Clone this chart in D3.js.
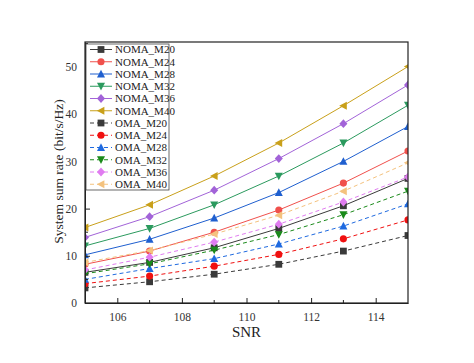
<!DOCTYPE html>
<html>
<head>
<meta charset="utf-8">
<script src="https://cdn.jsdelivr.net/npm/d3@7"></script>
<style>
  body { margin: 0; background: #fff; }
  text { font-family: "Liberation Serif", "Times New Roman", serif; }
</style>
</head>
<body>
<div id="wrapper"></div>
<script>
// data
const snr = [105, 107, 109, 111, 113, 115]

const nomaM20 = [6.5, 8.6, 11.7, 15.8, 20.6, 26.4]
const nomaM24 = [8.2, 11.0, 15.0, 19.7, 25.4, 32.2]
const nomaM28 = [10.2, 13.5, 18.0, 23.4, 30.0, 37.4]
const nomaM32 = [12.1, 15.8, 20.8, 26.9, 33.9, 41.9]
const nomaM36 = [13.9, 18.3, 23.9, 30.6, 38.0, 46.2]
const nomaM40 = [16.0, 20.8, 26.9, 33.9, 41.8, 50.1]
const omaM20 = [3.2, 4.5, 6.1, 8.2, 11.0, 14.3]
const omaM24 = [4.1, 5.7, 7.8, 10.3, 13.6, 17.6]
const omaM28 = [5.0, 7.3, 9.4, 12.5, 16.3, 21.0]
const omaM32 = [6.2, 8.3, 11.2, 14.5, 18.7, 23.7]
const omaM36 = [7.0, 9.7, 12.9, 16.7, 21.4, 26.7]
const omaM40 = [8.6, 11.1, 14.6, 18.6, 23.7, 29.7]

const seriesNames = ['NOMA_M20', 'NOMA_M24', 'NOMA_M28', 'NOMA_M32', 'NOMA_M36', 'NOMA_M40',
  'OMA_M20', 'OMA_M24', 'OMA_M28', 'OMA_M32', 'OMA_M36', 'OMA_M40']
const seriesValues = [nomaM20, nomaM24, nomaM28, nomaM32, nomaM36, nomaM40,
  omaM20, omaM24, omaM28, omaM32, omaM36, omaM40]

const xTicks = [106, 108, 110, 112, 114]
const yTicks = [0, 10, 20, 30, 40, 50]

// styles
const colors = ['#3a3a3a', '#f0504c', '#1f5fcf', '#2b9a5e', '#a263d8', '#c9a01a',
  '#3a3a3a', '#f01010', '#1f6ae0', '#1a8a1a', '#e07cf0', '#f4c27e']
const shapes = ['square', 'circle', 'up', 'down', 'diamond', 'left',
  'square', 'circle', 'up', 'down', 'diamond', 'left']

const series = seriesNames.map((name, i) => ({
  name: name,
  values: seriesValues[i].map((v, j) => ({ x: snr[j], y: v })),
  color: colors[i],
  shape: shapes[i],
  dashed: name.startsWith('OMA')
}))

// dimensions
let dimensions = {
  width: 474,
  height: 363,
  margin: { top: 42, right: 66, bottom: 60, left: 85 }
}
dimensions.boundedWidth = dimensions.width - dimensions.margin.left - dimensions.margin.right
dimensions.boundedHeight = dimensions.height - dimensions.margin.top - dimensions.margin.bottom

const wrapper = d3.select('#wrapper')
  .append('svg')
    .attr('width', dimensions.width)
    .attr('height', dimensions.height)

const bounds = wrapper.append('g')
  .attr('transform', `translate(${dimensions.margin.left},${dimensions.margin.top})`)

// scales
const xScale = d3.scaleLinear()
  .domain([105, 115])
  .range([0, dimensions.boundedWidth])

const yScale = d3.scaleLinear()
  .domain([0, 55.3])
  .range([dimensions.boundedHeight, 0])

// marker path
const markerPath = (shape) => {
  const s = 3.4
  switch (shape) {
    case 'square': return `M${-s},${-s}H${s}V${s}H${-s}Z`
    case 'circle': return d3.symbol(d3.symbolCircle, 40)()
    case 'up': return `M0,${-s - 0.8}L${s + 0.6},${s}L${-s - 0.6},${s}Z`
    case 'down': return `M0,${s + 0.8}L${s + 0.6},${-s}L${-s - 0.6},${-s}Z`
    case 'diamond': return `M0,${-s - 1}L${s + 0.6},0L0,${s + 1}L${-s - 0.6},0Z`
    case 'left': return `M${-s - 0.8},0L${s},${-s - 0.6}L${s},${s + 0.6}Z`
  }
}

// clip so markers at the edges are cut like the original
bounds.append('clipPath').attr('id', 'clip')
  .append('rect')
    .attr('width', dimensions.boundedWidth)
    .attr('height', dimensions.boundedHeight)

const plot = bounds.append('g').attr('clip-path', 'url(#clip)')

const line = d3.line()
  .x(d => xScale(d.x))
  .y(d => yScale(d.y))

const seriesGroup = plot.selectAll('g.series')
  .data(series)
  .enter().append('g')
    .attr('class', 'series')

seriesGroup.append('path')
  .attr('d', d => line(d.values))
  .attr('fill', 'none')
  .attr('stroke', d => d.color)
  .attr('stroke-width', 1)
  .attr('stroke-dasharray', d => d.dashed ? '4,3' : null)

seriesGroup.selectAll('path.marker')
  .data(d => d.values.map(v => ({ ...v, color: d.color, shape: d.shape })))
  .enter().append('path')
    .attr('class', 'marker')
    .attr('d', d => markerPath(d.shape))
    .attr('transform', d => `translate(${xScale(d.x)},${yScale(d.y)})`)
    .attr('fill', d => d.color)

// axes
const xAxis = d3.axisBottom(xScale)
  .tickValues(xTicks)
  .tickSizeInner(-5)
  .tickSizeOuter(0)
  .tickPadding(10)

const xAxisGroup = bounds.append('g')
  .attr('transform', `translate(0,${dimensions.boundedHeight})`)
  .call(xAxis)

const yAxis = d3.axisLeft(yScale)
  .tickValues(yTicks)
  .tickSizeInner(-5)
  .tickSizeOuter(0)
  .tickPadding(8)

const yAxisGroup = bounds.append('g').call(yAxis)

// minor ticks
const xMinor = [107, 109, 111, 113]
bounds.append('g').selectAll('line')
  .data(xMinor)
  .enter().append('line')
    .attr('x1', d => xScale(d)).attr('x2', d => xScale(d))
    .attr('y1', dimensions.boundedHeight).attr('y2', dimensions.boundedHeight - 3)
    .attr('stroke', '#222')

const yMinor = [5, 15, 25, 35, 45, 55]
bounds.append('g').selectAll('line')
  .data(yMinor)
  .enter().append('line')
    .attr('x1', 0).attr('x2', 3)
    .attr('y1', d => yScale(d)).attr('y2', d => yScale(d))
    .attr('stroke', '#222')

;[xAxisGroup, yAxisGroup].forEach(g => {
  g.selectAll('text')
    .style('font-family', '"Liberation Serif", serif')
    .style('font-size', '11.5px')
    .attr('fill', '#333')
  g.selectAll('line').attr('stroke', '#222')
  g.select('.domain').attr('stroke', '#222')
})

// frame
bounds.append('rect')
  .attr('width', dimensions.boundedWidth)
  .attr('height', dimensions.boundedHeight)
  .attr('fill', 'none')
  .attr('stroke', '#222')
  .attr('stroke-width', 1.2)

// axis labels
wrapper.append('text')
  .attr('x', dimensions.margin.left + xScale(110))
  .attr('y', 337)
  .attr('text-anchor', 'middle')
  .style('font-size', '15px')
  .attr('fill', '#222')
  .text('SNR')

wrapper.append('text')
  .attr('transform', `translate(63,${dimensions.margin.top + dimensions.boundedHeight / 2 - 1}) rotate(-90)`)
  .attr('text-anchor', 'middle')
  .style('font-size', '13.5px')
  .attr('fill', '#222')
  .text('System sum rate (bit/s/Hz)')

// legend
const legend = bounds.append('g')
  .attr('transform', 'translate(1,2)')

legend.append('rect')
  .attr('width', 83)
  .attr('height', 146)
  .attr('fill', '#fff')
  .attr('stroke', '#444')
  .attr('stroke-width', 0.8)

const legendItem = legend.selectAll('g.item')
  .data(series)
  .enter().append('g')
    .attr('class', 'item')
    .attr('transform', (d, i) => `translate(0,${5.5 + i * 12.25})`)

legendItem.append('line')
  .attr('x1', 4).attr('x2', 26)
  .attr('stroke', d => d.color)
  .attr('stroke-width', 1)
  .attr('stroke-dasharray', d => d.dashed ? '4,3' : null)

legendItem.append('path')
  .attr('d', d => markerPath(d.shape))
  .attr('transform', 'translate(15,0)')
  .attr('fill', d => d.color)

legendItem.append('text')
  .attr('x', 29)
  .attr('dy', '0.35em')
  .style('font-size', '11px')
  .attr('fill', '#222')
  .text(d => d.name)
</script>
</body>
</html>
